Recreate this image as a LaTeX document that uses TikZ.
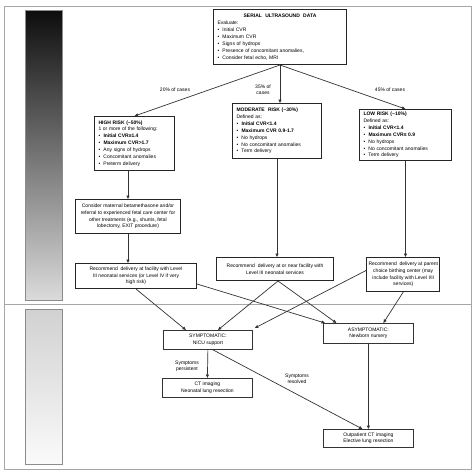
\documentclass[tikz,border=0pt]{standalone}
\usepackage{fontspec}
\setmainfont{Liberation Sans}
\usetikzlibrary{arrows.meta, positioning, calc}
\newcommand{\bul}{\makebox[5pt][l]{\textbullet}}

\begin{document}
\begin{tikzpicture}[x=1pt, y=-1pt,
    lbox/.style={draw=black!85, line width=1pt, anchor=north west, align=left,
      inner xsep=4pt, inner ysep=0pt, font=\fontsize{5}{6.9}\selectfont},
    cbox/.style={draw=black!85, line width=1pt, anchor=north west, align=center,
      inner xsep=2pt, inner ysep=0pt, font=\fontsize{5}{6.6}\selectfont},
    sbox/.style={cbox, line width=0.8pt, draw=black!80},
    lbl/.style={font=\fontsize{5}{6.4}\selectfont, align=center, inner sep=0pt},
    arr/.style={-{Triangle[length=3.5pt,width=3pt]}, line width=0.7pt, draw=black!80},
    frame/.style={draw=black!35, line width=0.9pt},
    bar/.style={draw=black!45, line width=0.7pt}
]
\useasboundingbox (0,0) rectangle (474,474);
%% panels and grey scales
\draw[frame] (4,6) rectangle (471,469);
\draw[frame] (4,304) -- (471,304);
\draw[bar, top color=black!95, bottom color=black!14] (25,10) rectangle (62,300);
\draw[bar, top color=black!18, bottom color=black!2] (25,309) rectangle (62,464);

%% prenatal part
\node[lbox, text width=125pt, minimum height=55pt] (serial) at (213,9) {%
  \makebox[\linewidth]{\textbf{SERIAL\ \ ULTRASOUND\ \ DATA}}\\
  Evaluate:\\
  \bul Initial CVR\\
  \bul Maximum CVR\\
  \bul Signs of hydrops\\
  \bul Presence of concomitant anomalies,\\
  \bul Consider fetal echo, MRI};
\node[lbox, text width=72pt, minimum height=54pt] (high) at (94,116) {%
  \textbf{HIGH RISK (\textasciitilde50\%)}\\
  1 or more of the following:\\
  \bul\textbf{Initial CVR≥1.4}\\
  \bul\textbf{Maximum CVR>1.7}\\
  \bul Any signs of hydrops\\
  \bul Concomitant anomalies\\
  \bul Preterm delivery};
\node[lbox, text width=81pt, minimum height=55pt] (mod) at (232,103) {%
  \textbf{MODERATE\ \ RISK (\textasciitilde30\%)}\\
  Defined as:\\
  \bul\textbf{Initial CVR<1.4}\\
  \bul\textbf{Maximum CVR 0.9-1.7}\\
  \bul No hydrops\\
  \bul No concomitant anomalies\\
  \bul Term delivery};
\node[lbox, text width=84pt, minimum height=51pt] (low) at (359,109) {%
  \textbf{LOW RISK (\textasciitilde10\%)}\\
  Defined as:\\
  \bul\textbf{Initial CVR<1.4}\\
  \bul\textbf{Maximum CVR≤ 0.9}\\
  \bul No hydrops\\
  \bul No concomitant anomalies\\
  \bul Term delivery};
\node[lbl] (p20) at (175,90) {20\% of cases};
\node[lbl] (p35) at (263,90) {35\% of\\cases};
\node[lbl] (p45) at (390,90) {45\% of cases};
\draw[arr] (serial.south) -- (high.north);
\draw[arr] (serial.south) -- (serial.south |- mod.north);
\draw[arr] (serial.south) -- (low.north);

\node[cbox, minimum width=105pt, minimum height=34pt] (consider) at (75,199)
  {Consider maternal betamethasone and/or\\
   referral to experienced fetal care center for\\
   other treatments (e.g., shunts, fetal\\
   lobectomy, EXIT procedure)};
\node[cbox, minimum width=121pt, minimum height=25pt] (rec1) at (75,263)
  {Recommend\ \ delivery at facility with Level\\
   III neonatal services (or Level IV if very\\
   high risk)};
\node[cbox, minimum width=117pt, minimum height=23pt] (rec2) at (216,257)
  {Recommend\ \ delivery at or near facility with\\
   Level III neonatal services};
\node[cbox, minimum width=73pt, minimum height=34pt] (rec3) at (366,257)
  {Recommend\ \ delivery at parent\\
   choice birthing center (may\\
   include facility with Level I/II\\
   services)};
\draw[arr] (consider.north |- high.south) -- (consider.north);
\draw[arr] (consider.south) -- (consider.south |- rec1.north);
\draw[arr] (mod.south) -- (mod.south |- rec2.north);
\draw[arr] (low.south) -- (low.south |- rec3.north);

%% postnatal part
\node[sbox, minimum width=89pt, minimum height=19pt] (symp) at (163,330)
  {SYMPTOMATIC:\\ NICU support};
\node[sbox, minimum width=90pt, minimum height=20pt] (asym) at (323,323)
  {ASYMPTOMATIC:\\ Newborn nursery};
\node[sbox, minimum width=90pt, minimum height=19pt] (ct) at (162,378)
  {CT imaging\\ Neonatal lung resection};
\node[sbox, minimum width=90pt, minimum height=18pt] (outp) at (323,429)
  {Outpatient CT imaging\\ Elective lung resection};
\draw[arr] (rec1.south) -- ([xshift=-22pt]symp.north);
\draw[arr] ($(rec1.south east)+(0,-5)$) -- ([xshift=2pt]asym.north west);
\draw[arr] ([xshift=3pt]rec2.south) -- ([xshift=10pt]symp.north);
\draw[arr] ([xshift=3pt]rec2.south) -- ([xshift=-32pt]asym.north);
\draw[arr] ([yshift=4pt]rec3.west) -- ([xshift=2pt,yshift=2pt]symp.north east);
\draw[arr] (rec3.south) -- ([xshift=15pt]asym.north);
\draw[arr] (symp.south) -- (ct.north);
\draw[arr] ([xshift=5pt]symp.south) -- ([xshift=-6pt]outp.north);
\draw[arr] (asym.south) -- (outp.north);
\node[lbl] (persist) at (187,366) {Symptoms\\persistent};
\node[lbl] (resolv) at (297,379) {Symptoms\\resolved};
\end{tikzpicture}
\end{document}
